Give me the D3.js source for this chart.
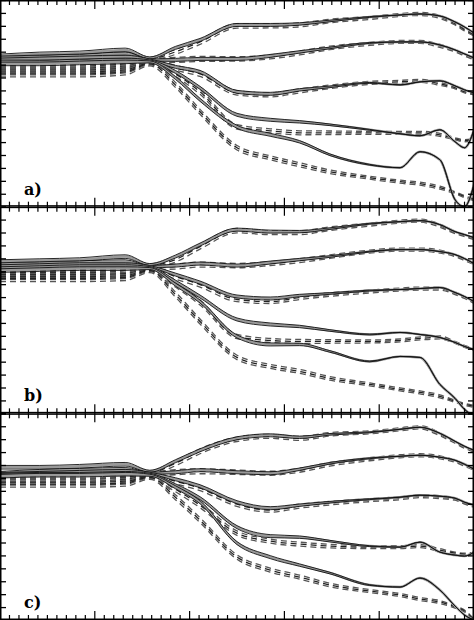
<!DOCTYPE html>
<html><head><meta charset="utf-8">
<script src="https://cdn.jsdelivr.net/npm/d3@7"></script>
<style>body{margin:0;background:#fff}svg{display:block}</style>
</head><body><div id="container"></div>
<script>
// sample positions along the horizontal axis (0..50)
const xs = [0,4.2,8.4,13.2,15.8,18.5,21.1,25,28.5,31.6,34.8,39,42.2,44.3,46.4,48,49,50];
// bundle half-widths along x
const solidSpread = [1.8,1.8,1.8,1.8,1,1.5,1.5,1.5,1.5,1.2,0.8,0.4,0,0,0,0,0,0];
const dashSpread = [3,3,3,3,2,2.5,2.5,2.2,2,2,1.8,1.5,1.5,1.5,1.5,1,1,1];
const panelLabels = ["a)", "b)", "c)"];

// panel a
const aSolid = [
  [56,54,53,50,58,48,40,25,25,24,21,17,15,14,16,22,27,33],
  [58,57,56,54,60,60,59,59,56,52,48,43,42,42,45,50,54,58],
  [60,59,58,57,60,67,72,92,94,90,87,83,85,82,81,86,90,93],
  [62,62,61,60,61,72,88,115,120,122,125,130,134,136,130,142,148,130],
  [64,64,63,62,62,78,100,127,135,142,155,165,168,152,160,200,207,185]
];
const aDash = [
  [66,66,66,64,60,52,42,26,26,25,21,18,15,14,17,24,30,35],
  [68,68,68,66,61,60,59,59,57,53,48,44,42,42,46,51,55,59],
  [70,70,70,68,62,68,74,93,95,91,87,83,82,81,84,88,92,94],
  [72,72,72,70,63,74,92,127,131,133,133,133,133,133,135,139,141,140],
  [74,74,74,72,64,85,112,148,158,165,172,178,182,184,188,193,197,200]
];
// panel b
const bSolid = [
  [55,54,53,50,58,50,38,23,25,25,22,17,15,14,18,25,28,31],
  [58,57,56,55,60,59,57,59,56,53,50,45,43,43,45,48,52,57],
  [60,59,58,58,60,68,76,90,92,89,87,84,83,82,81,86,90,95],
  [62,61,60,60,61,75,90,113,118,120,124,128,126,128,131,136,140,143],
  [64,63,62,62,62,78,95,130,138,138,145,155,150,151,178,192,203,210]
];
const bDash = [
  [64,64,64,63,60,53,40,24,26,26,22,18,15,14,19,26,29,32],
  [66,66,66,64,61,60,58,59,57,54,50,45,43,43,45,49,53,57],
  [68,68,68,67,62,70,78,93,95,91,88,85,83,82,82,87,91,96],
  [70,70,70,69,63,78,96,130,134,135,135,135,134,132,131,136,140,143],
  [72,72,72,71,64,88,115,151,160,165,172,178,183,186,190,195,198,200]
];
// panel c
const cSolid = [
  [54,54,53,51,58,48,37,25,22,24,21,19,16,14,20,28,33,37],
  [60,58,57,56,60,59,57,59,60,56,50,45,43,42,44,47,51,56],
  [61,60,59,58,60,66,73,89,95,92,89,86,84,82,83,85,89,92],
  [62,61,61,60,61,72,85,114,123,124,128,133,134,129,139,142,143,139],
  [63,62,62,61,62,74,89,130,144,152,160,172,174,165,177,193,202,207]
];
const cDash = [
  [62,62,62,61,60,50,38,26,23,25,21,19,16,14,21,29,34,38],
  [66,66,66,64,61,59,58,59,60,57,51,46,43,42,44,48,52,56],
  [68,68,68,66,62,68,75,91,97,93,90,87,85,83,84,86,90,93],
  [69,69,69,68,63,76,92,120,128,131,133,134,134,133,137,140,141,140],
  [71,71,71,70,64,84,107,144,157,164,172,178,182,186,189,194,198,207]
];
const panels = [[aSolid,aDash],[bSolid,bDash],[cSolid,cDash]];

const W = 474, H = 620, ph = H / 3;
const svg = d3.select("#container").append("svg").attr("width", W).attr("height", H);

const x = d3.scaleLinear().domain([0, 50]).range([0, W]);
const y = d3.scaleLinear().domain([0, 207]).range([0, ph]);
const yt = d3.scaleLinear().domain([0, 16]).range([ph, 0]);
const xTickVals = d3.range(1, 50, 1);

panels.forEach(([solid, dash], p) => {
  const g = svg.append("g").attr("transform", `translate(0, ${p * ph})`);
  const clipId = "clip" + p;
  g.append("clipPath").attr("id", clipId).append("rect").attr("width", W).attr("height", ph);
  const plot = g.append("g").attr("clip-path", `url(#${clipId})`);

  const mk = (vals, spread, k) => d3.line()
    .x((d, i) => x(xs[i]))
    .y((d, i) => y(d + k * spread[i]))
    .curve(d3.curveMonotoneX)(vals);

  dash.forEach(vals => {
    [-1, 0, 1].forEach(k => {
      plot.append("path").attr("d", mk(vals, dashSpread, k))
        .attr("fill", "none").attr("stroke", k === 0 ? "#222" : "#555")
        .attr("stroke-width", 1.3).attr("stroke-dasharray", "6,4");
    });
  });
  solid.forEach(vals => {
    plot.append("path").attr("d", mk(vals, solidSpread, 0))
      .attr("fill", "none").attr("stroke", "#999").attr("stroke-width", 2.5);
    [-1, 1].forEach(k => {
      plot.append("path").attr("d", mk(vals, solidSpread, k))
        .attr("fill", "none").attr("stroke", "#111").attr("stroke-width", 0.9);
    });
  });

  // x ticks on top and bottom, pointing inward; every 10th one longer
  const tlen = d => (d % 10 === 0 ? 9 : 5);
  g.selectAll(".xt-top").data(xTickVals).join("line").attr("class", "xt-top")
    .attr("x1", d => x(d)).attr("x2", d => x(d)).attr("y1", 0).attr("y2", tlen)
    .attr("stroke", "#000").attr("stroke-width", 1.2);
  g.selectAll(".xt-bot").data(xTickVals).join("line").attr("class", "xt-bot")
    .attr("x1", d => x(d)).attr("x2", d => x(d)).attr("y1", ph).attr("y2", d => ph - tlen(d))
    .attr("stroke", "#000").attr("stroke-width", 1.2);

  const noDomain = s => s.select(".domain").remove();
  g.append("g").call(d3.axisRight(yt).ticks(16).tickSize(6).tickFormat("")).call(noDomain);
  g.append("g").attr("transform", `translate(${W},0)`).call(d3.axisLeft(yt).ticks(16).tickSize(6).tickFormat("")).call(noDomain);
  g.selectAll(".tick line").attr("stroke", "#000").attr("stroke-width", 1.3);

  g.append("rect").attr("x", 0.75).attr("y", 0.75).attr("width", W - 1.5).attr("height", ph - 1.5)
    .attr("fill", "none").attr("stroke", "#000").attr("stroke-width", 1.5);

  g.append("text").attr("x", 24).attr("y", ph - 12)
    .style("font-family", "'DejaVu Serif', 'Liberation Serif', serif").attr("font-weight", "bold").attr("font-size", 16)
    .text(panelLabels[p]);
});
</script>
</body></html>
